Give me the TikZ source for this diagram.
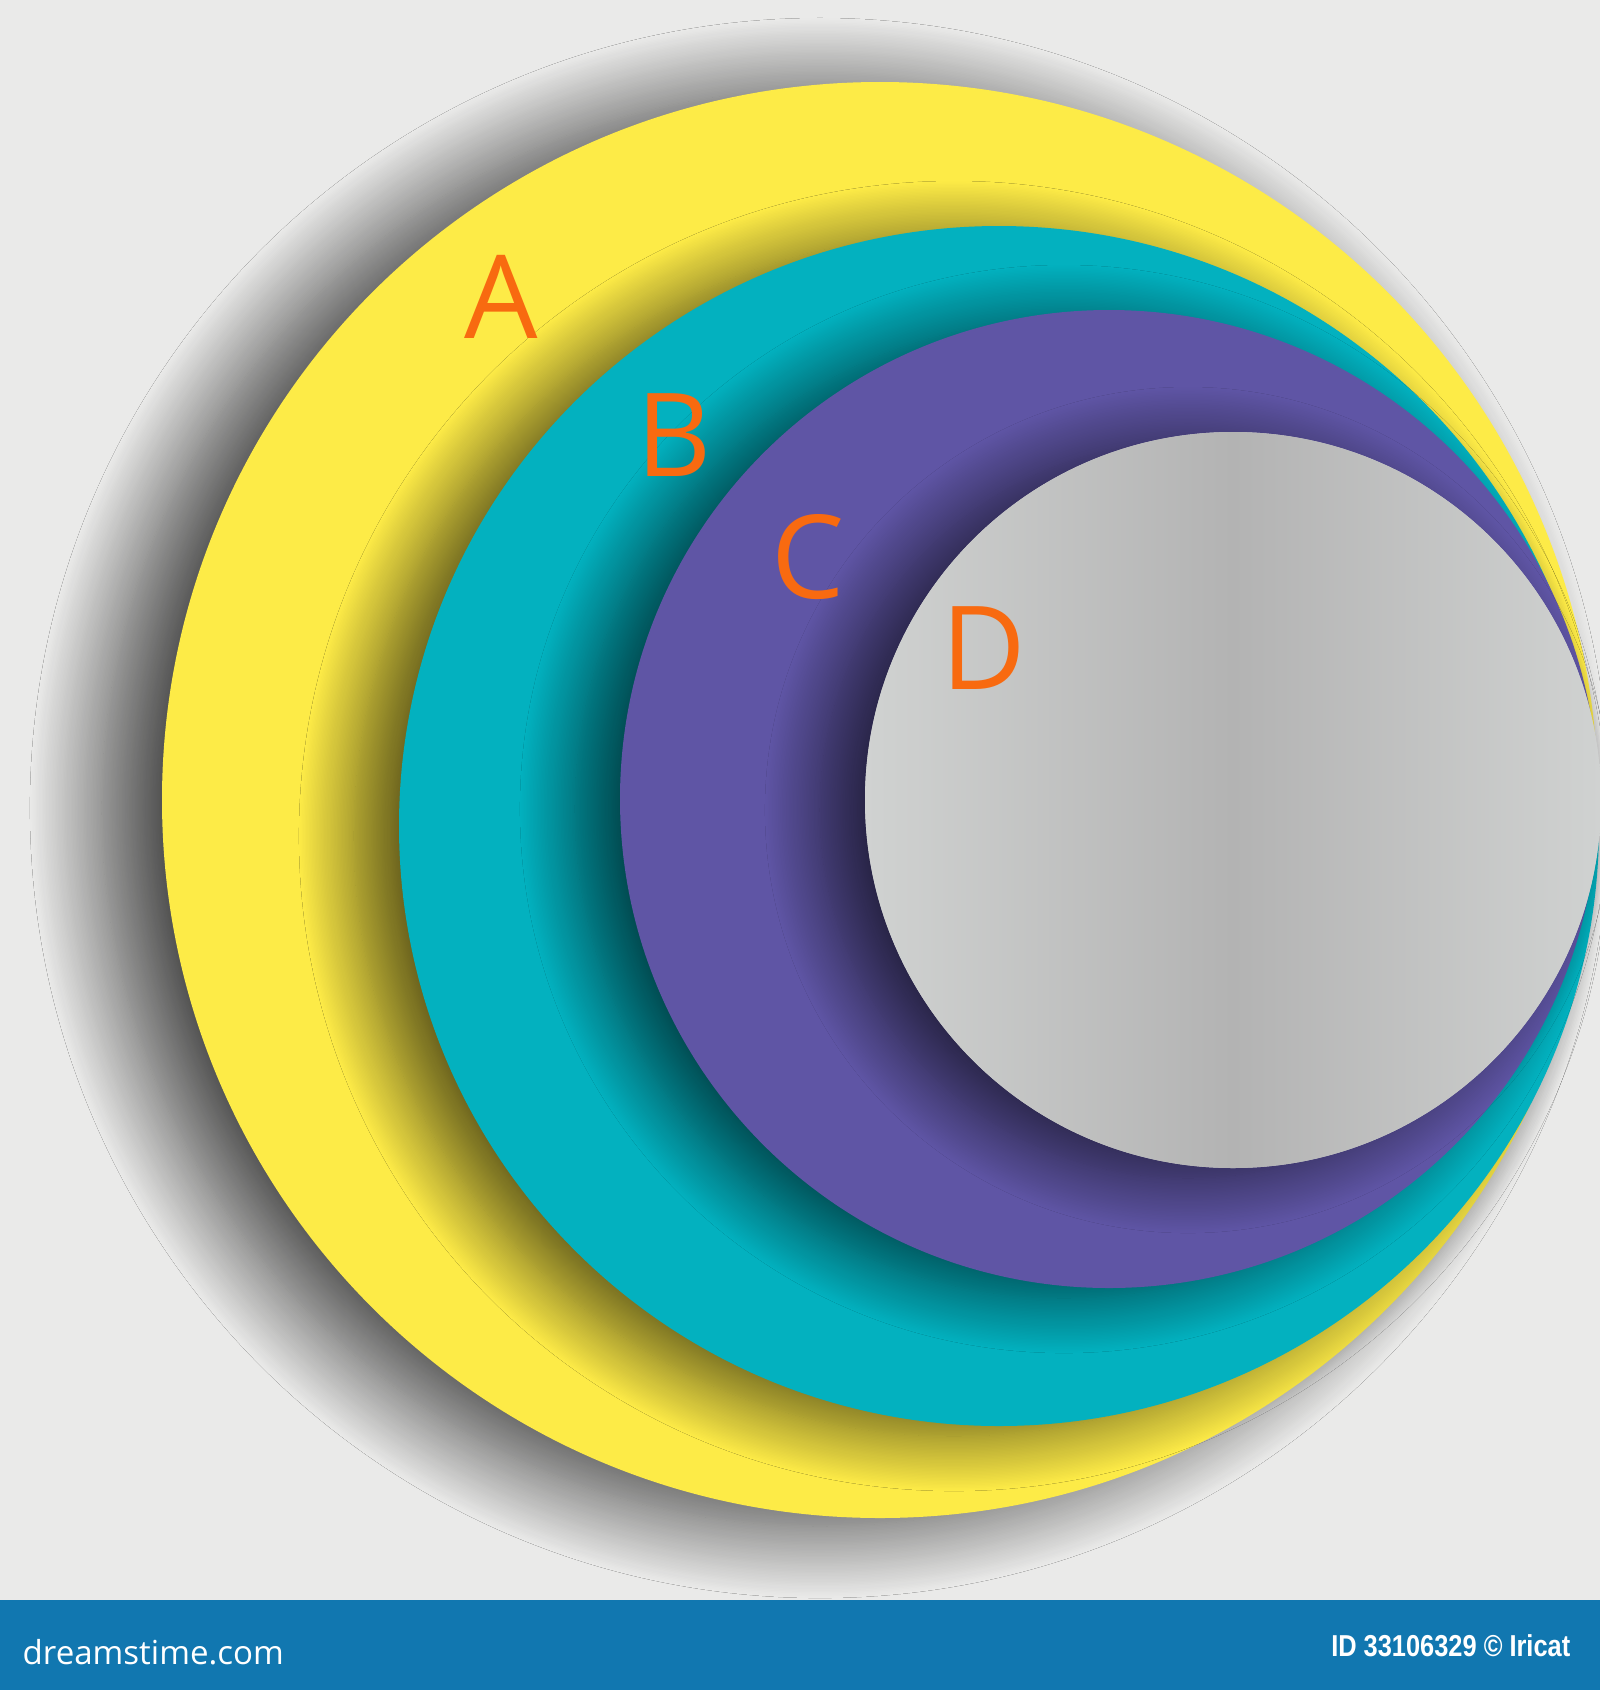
\documentclass[tikz,border=0pt]{standalone}
\usepackage{fontspec}
\setmainfont{Open Sans}
\newfontfamily\idfont[FakeStretch=0.84]{Liberation Sans}
\usetikzlibrary{shadows.blur}

\definecolor{bgc}{HTML}{EAEAE9}
\definecolor{ringA}{HTML}{FDEB47}
\definecolor{ringB}{HTML}{03B1BF}
\definecolor{ringC}{HTML}{5F55A5}
\definecolor{greyL}{HTML}{D0D2D1}
\definecolor{greyM}{HTML}{B3B3B3}
\definecolor{labelc}{HTML}{F86A10}
\definecolor{barc}{HTML}{1177B0}

\begin{document}
\begin{tikzpicture}[x=0.01cm,y=-0.01cm,
  disc/.style={blur shadow={shadow xshift=-0.45cm,shadow yshift=-0.1cm,shadow blur radius=0.55cm,shadow blur steps=40,shadow opacity=62}},
  bigdisc/.style={blur shadow={shadow xshift=-0.6cm,shadow yshift=-0.08cm,shadow blur radius=0.72cm,shadow blur steps=50,shadow opacity=70}},
  letter/.style={text=labelc,font=\fontsize{33}{40}\selectfont,inner sep=0pt}]
  \useasboundingbox (0,0) rectangle (1600,1690);
  \clip (0,0) rectangle (1600,1690);
  \fill[bgc] (0,0) rectangle (1600,1600);

  % the four discs, outer to inner
  \fill[ringA,bigdisc] (880,800) circle (718);
  \fill[ringB,disc] (999,826) circle (600);
  \fill[ringC,disc] (1109,799) circle (489);
  \fill[greyL,disc] (1233,800) circle (368);
  \shade[left color=greyL,right color=greyL,middle color=greyM] (1233,800) circle (368);

  \node[letter] (a) at (501,297) {A};
  \node[letter] (b) at (674,435) {B};
  \node[letter] (c) at (808,557) {C};
  \node[letter] (d) at (984,648) {D};

  % bottom bar
  \fill[barc] (0,1600) rectangle (1600,1690);
  \node[text=white,font=\fontsize{9.4}{11}\selectfont,anchor=west,inner sep=0pt] (site) at (22,1652) {dreamstime.com};
  \node[text=white,font=\idfont\bfseries\fontsize{8.6}{10}\selectfont,anchor=east,inner sep=0pt] (id) at (1571,1646) {ID 33106329 © Iricat};
\end{tikzpicture}
\end{document}
